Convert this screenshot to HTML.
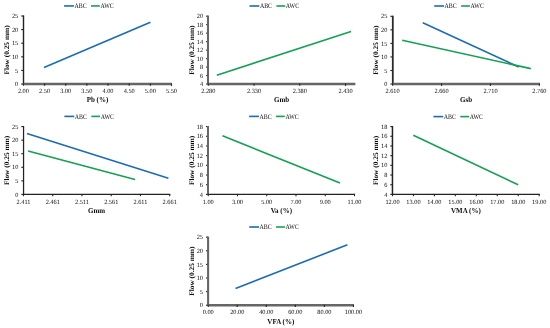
<!DOCTYPE html>
<html><head><meta charset="utf-8"><style>
html,body{margin:0;padding:0;background:#fff;}
svg{display:block;filter:blur(0.2px);}
text{text-rendering:geometricPrecision;}
.tk{font-family:"Liberation Serif",serif;font-size:6.3px;fill:#0a0a0a;}
.ttl{font-family:"Liberation Serif",serif;font-size:7.0px;font-weight:bold;fill:#0a0a0a;}
.lg{font-family:"Liberation Serif",serif;font-size:6.8px;fill:#0a0a0a;}
</style></head><body>
<svg width="550" height="328" viewBox="0 0 550 328">
<rect width="550" height="328" fill="#fff"/>
<line x1="21.20" y1="84.05" x2="23.4" y2="84.05" stroke="#222222" stroke-width="1.1"/>
<text x="18.20" y="86.15" text-anchor="end" class="tk">0</text>
<line x1="21.20" y1="70.44" x2="23.4" y2="70.44" stroke="#222222" stroke-width="1.1"/>
<text x="18.20" y="72.54" text-anchor="end" class="tk">5</text>
<line x1="21.20" y1="56.83" x2="23.4" y2="56.83" stroke="#222222" stroke-width="1.1"/>
<text x="18.20" y="58.93" text-anchor="end" class="tk">10</text>
<line x1="21.20" y1="43.22" x2="23.4" y2="43.22" stroke="#222222" stroke-width="1.1"/>
<text x="18.20" y="45.32" text-anchor="end" class="tk">15</text>
<line x1="21.20" y1="29.61" x2="23.4" y2="29.61" stroke="#222222" stroke-width="1.1"/>
<text x="18.20" y="31.71" text-anchor="end" class="tk">20</text>
<line x1="21.20" y1="16.00" x2="23.4" y2="16.00" stroke="#222222" stroke-width="1.1"/>
<text x="18.20" y="18.10" text-anchor="end" class="tk">25</text>
<line x1="23.5" y1="15.40" x2="23.5" y2="84.05" stroke="#222222" stroke-width="1.4"/>
<line x1="23.4" y1="84.05" x2="172.00" y2="84.05" stroke="#666666" stroke-width="2.4"/>
<line x1="23.40" y1="83.55" x2="23.40" y2="85.85" stroke="#222222" stroke-width="1.1"/>
<text x="23.40" y="93.25" text-anchor="middle" class="tk">2.00</text>
<line x1="44.56" y1="83.55" x2="44.56" y2="85.85" stroke="#222222" stroke-width="1.1"/>
<text x="44.56" y="93.25" text-anchor="middle" class="tk">2.50</text>
<line x1="65.71" y1="83.55" x2="65.71" y2="85.85" stroke="#222222" stroke-width="1.1"/>
<text x="65.71" y="93.25" text-anchor="middle" class="tk">3.00</text>
<line x1="86.87" y1="83.55" x2="86.87" y2="85.85" stroke="#222222" stroke-width="1.1"/>
<text x="86.87" y="93.25" text-anchor="middle" class="tk">3.50</text>
<line x1="108.03" y1="83.55" x2="108.03" y2="85.85" stroke="#222222" stroke-width="1.1"/>
<text x="108.03" y="93.25" text-anchor="middle" class="tk">4.00</text>
<line x1="129.19" y1="83.55" x2="129.19" y2="85.85" stroke="#222222" stroke-width="1.1"/>
<text x="129.19" y="93.25" text-anchor="middle" class="tk">4.50</text>
<line x1="150.34" y1="83.55" x2="150.34" y2="85.85" stroke="#222222" stroke-width="1.1"/>
<text x="150.34" y="93.25" text-anchor="middle" class="tk">5.00</text>
<line x1="171.50" y1="83.55" x2="171.50" y2="85.85" stroke="#222222" stroke-width="1.1"/>
<text x="171.50" y="93.25" text-anchor="middle" class="tk">5.50</text>
<text transform="translate(97.45,102.40) scale(1,1.08)" text-anchor="middle" class="ttl">Pb (%)</text>
<text transform="translate(9.40,50.02) rotate(-90) scale(1.05,1)" text-anchor="middle" class="ttl">Flow (0.25 mm)</text>
<line x1="64.1" y1="5.95" x2="73.90" y2="5.95" stroke="#1a6cb5" stroke-width="1.6"/>
<text transform="translate(74.50,8.40) scale(0.87,1)" class="lg">ABC</text>
<line x1="91.00" y1="5.95" x2="99.80" y2="5.95" stroke="#16a053" stroke-width="1.6"/>
<text transform="translate(100.40,8.40) scale(0.87,1)" class="lg">AWC</text>
<line x1="44.0" y1="67.6" x2="150.4" y2="22.2" stroke="#1a6cb5" stroke-width="1.6"/>
<line x1="206.10" y1="84.05" x2="208.3" y2="84.05" stroke="#222222" stroke-width="1.1"/>
<text x="203.10" y="86.15" text-anchor="end" class="tk">4</text>
<line x1="206.10" y1="75.57" x2="208.3" y2="75.57" stroke="#222222" stroke-width="1.1"/>
<text x="203.10" y="77.67" text-anchor="end" class="tk">6</text>
<line x1="206.10" y1="67.09" x2="208.3" y2="67.09" stroke="#222222" stroke-width="1.1"/>
<text x="203.10" y="69.19" text-anchor="end" class="tk">8</text>
<line x1="206.10" y1="58.61" x2="208.3" y2="58.61" stroke="#222222" stroke-width="1.1"/>
<text x="203.10" y="60.71" text-anchor="end" class="tk">10</text>
<line x1="206.10" y1="50.12" x2="208.3" y2="50.12" stroke="#222222" stroke-width="1.1"/>
<text x="203.10" y="52.23" text-anchor="end" class="tk">12</text>
<line x1="206.10" y1="41.64" x2="208.3" y2="41.64" stroke="#222222" stroke-width="1.1"/>
<text x="203.10" y="43.74" text-anchor="end" class="tk">14</text>
<line x1="206.10" y1="33.16" x2="208.3" y2="33.16" stroke="#222222" stroke-width="1.1"/>
<text x="203.10" y="35.26" text-anchor="end" class="tk">16</text>
<line x1="206.10" y1="24.68" x2="208.3" y2="24.68" stroke="#222222" stroke-width="1.1"/>
<text x="203.10" y="26.78" text-anchor="end" class="tk">18</text>
<line x1="206.10" y1="16.20" x2="208.3" y2="16.20" stroke="#222222" stroke-width="1.1"/>
<text x="203.10" y="18.30" text-anchor="end" class="tk">20</text>
<line x1="208.0" y1="15.60" x2="208.0" y2="84.05" stroke="#666666" stroke-width="2.1"/>
<line x1="208.3" y1="84.05" x2="355.40" y2="84.05" stroke="#666666" stroke-width="2.4"/>
<line x1="208.30" y1="83.55" x2="208.30" y2="85.85" stroke="#222222" stroke-width="1.1"/>
<text x="208.30" y="93.25" text-anchor="middle" class="tk">2.280</text>
<line x1="254.03" y1="83.55" x2="254.03" y2="85.85" stroke="#222222" stroke-width="1.1"/>
<text x="254.03" y="93.25" text-anchor="middle" class="tk">2.330</text>
<line x1="299.77" y1="83.55" x2="299.77" y2="85.85" stroke="#222222" stroke-width="1.1"/>
<text x="299.77" y="93.25" text-anchor="middle" class="tk">2.380</text>
<line x1="345.50" y1="83.55" x2="345.50" y2="85.85" stroke="#222222" stroke-width="1.1"/>
<text x="345.50" y="93.25" text-anchor="middle" class="tk">2.430</text>
<text transform="translate(281.60,102.40) scale(1,1.08)" text-anchor="middle" class="ttl">Gmb</text>
<text transform="translate(193.80,50.12) rotate(-90) scale(1.05,1)" text-anchor="middle" class="ttl">Flow (0.25 mm)</text>
<line x1="249.5" y1="6.0" x2="259.30" y2="6.0" stroke="#1a6cb5" stroke-width="1.6"/>
<text transform="translate(259.90,8.45) scale(0.87,1)" class="lg">ABC</text>
<line x1="276.40" y1="6.0" x2="285.20" y2="6.0" stroke="#16a053" stroke-width="1.6"/>
<text transform="translate(285.80,8.45) scale(0.87,1)" class="lg">AWC</text>
<line x1="216.8" y1="75.3" x2="351.0" y2="31.4" stroke="#16a053" stroke-width="1.6"/>
<line x1="390.40" y1="84.05" x2="392.6" y2="84.05" stroke="#222222" stroke-width="1.1"/>
<text x="387.40" y="86.15" text-anchor="end" class="tk">0</text>
<line x1="390.40" y1="70.50" x2="392.6" y2="70.50" stroke="#222222" stroke-width="1.1"/>
<text x="387.40" y="72.60" text-anchor="end" class="tk">5</text>
<line x1="390.40" y1="56.95" x2="392.6" y2="56.95" stroke="#222222" stroke-width="1.1"/>
<text x="387.40" y="59.05" text-anchor="end" class="tk">10</text>
<line x1="390.40" y1="43.40" x2="392.6" y2="43.40" stroke="#222222" stroke-width="1.1"/>
<text x="387.40" y="45.50" text-anchor="end" class="tk">15</text>
<line x1="390.40" y1="29.85" x2="392.6" y2="29.85" stroke="#222222" stroke-width="1.1"/>
<text x="387.40" y="31.95" text-anchor="end" class="tk">20</text>
<line x1="390.40" y1="16.30" x2="392.6" y2="16.30" stroke="#222222" stroke-width="1.1"/>
<text x="387.40" y="18.40" text-anchor="end" class="tk">25</text>
<line x1="392.8" y1="15.70" x2="392.8" y2="84.05" stroke="#2a2a2a" stroke-width="1.8"/>
<line x1="392.6" y1="84.05" x2="539.90" y2="84.05" stroke="#666666" stroke-width="2.4"/>
<line x1="392.60" y1="83.55" x2="392.60" y2="85.85" stroke="#222222" stroke-width="1.1"/>
<text x="392.60" y="93.25" text-anchor="middle" class="tk">2.610</text>
<line x1="441.53" y1="83.55" x2="441.53" y2="85.85" stroke="#222222" stroke-width="1.1"/>
<text x="441.53" y="93.25" text-anchor="middle" class="tk">2.660</text>
<line x1="490.47" y1="83.55" x2="490.47" y2="85.85" stroke="#222222" stroke-width="1.1"/>
<text x="490.47" y="93.25" text-anchor="middle" class="tk">2.710</text>
<line x1="539.40" y1="83.55" x2="539.40" y2="85.85" stroke="#222222" stroke-width="1.1"/>
<text x="539.40" y="93.25" text-anchor="middle" class="tk">2.760</text>
<text transform="translate(466.00,102.40) scale(1,1.08)" text-anchor="middle" class="ttl">Gsb</text>
<text transform="translate(378.30,50.17) rotate(-90) scale(1.05,1)" text-anchor="middle" class="ttl">Flow (0.25 mm)</text>
<line x1="434.2" y1="6.0" x2="444.00" y2="6.0" stroke="#1a6cb5" stroke-width="1.6"/>
<text transform="translate(444.60,8.45) scale(0.87,1)" class="lg">ABC</text>
<line x1="461.10" y1="6.0" x2="469.90" y2="6.0" stroke="#16a053" stroke-width="1.6"/>
<text transform="translate(470.50,8.45) scale(0.87,1)" class="lg">AWC</text>
<line x1="422.8" y1="22.7" x2="518.8" y2="67.0" stroke="#1a6cb5" stroke-width="1.6"/>
<line x1="402.2" y1="40.3" x2="530.8" y2="68.6" stroke="#16a053" stroke-width="1.6"/>
<line x1="21.30" y1="194.40" x2="23.5" y2="194.40" stroke="#222222" stroke-width="1.1"/>
<text x="18.30" y="196.50" text-anchor="end" class="tk">0</text>
<line x1="21.30" y1="180.84" x2="23.5" y2="180.84" stroke="#222222" stroke-width="1.1"/>
<text x="18.30" y="182.94" text-anchor="end" class="tk">5</text>
<line x1="21.30" y1="167.28" x2="23.5" y2="167.28" stroke="#222222" stroke-width="1.1"/>
<text x="18.30" y="169.38" text-anchor="end" class="tk">10</text>
<line x1="21.30" y1="153.72" x2="23.5" y2="153.72" stroke="#222222" stroke-width="1.1"/>
<text x="18.30" y="155.82" text-anchor="end" class="tk">15</text>
<line x1="21.30" y1="140.16" x2="23.5" y2="140.16" stroke="#222222" stroke-width="1.1"/>
<text x="18.30" y="142.26" text-anchor="end" class="tk">20</text>
<line x1="21.30" y1="126.60" x2="23.5" y2="126.60" stroke="#222222" stroke-width="1.1"/>
<text x="18.30" y="128.70" text-anchor="end" class="tk">25</text>
<line x1="23.55" y1="126.00" x2="23.55" y2="194.4" stroke="#222222" stroke-width="1.25"/>
<line x1="23.5" y1="194.4" x2="170.20" y2="194.4" stroke="#222222" stroke-width="1.25"/>
<line x1="23.50" y1="193.90" x2="23.50" y2="196.20" stroke="#222222" stroke-width="1.1"/>
<text x="23.50" y="203.60" text-anchor="middle" class="tk">2.411</text>
<line x1="52.74" y1="193.90" x2="52.74" y2="196.20" stroke="#222222" stroke-width="1.1"/>
<text x="52.74" y="203.60" text-anchor="middle" class="tk">2.461</text>
<line x1="81.98" y1="193.90" x2="81.98" y2="196.20" stroke="#222222" stroke-width="1.1"/>
<text x="81.98" y="203.60" text-anchor="middle" class="tk">2.511</text>
<line x1="111.22" y1="193.90" x2="111.22" y2="196.20" stroke="#222222" stroke-width="1.1"/>
<text x="111.22" y="203.60" text-anchor="middle" class="tk">2.561</text>
<line x1="140.46" y1="193.90" x2="140.46" y2="196.20" stroke="#222222" stroke-width="1.1"/>
<text x="140.46" y="203.60" text-anchor="middle" class="tk">2.611</text>
<line x1="169.70" y1="193.90" x2="169.70" y2="196.20" stroke="#222222" stroke-width="1.1"/>
<text x="169.70" y="203.60" text-anchor="middle" class="tk">2.661</text>
<text transform="translate(96.60,213.00) scale(1,1.08)" text-anchor="middle" class="ttl">Gmm</text>
<text transform="translate(9.30,160.50) rotate(-90) scale(1.05,1)" text-anchor="middle" class="ttl">Flow (0.25 mm)</text>
<line x1="64.4" y1="116.4" x2="74.20" y2="116.4" stroke="#1a6cb5" stroke-width="1.6"/>
<text transform="translate(74.80,118.85) scale(0.87,1)" class="lg">ABC</text>
<line x1="91.30" y1="116.4" x2="100.10" y2="116.4" stroke="#16a053" stroke-width="1.6"/>
<text transform="translate(100.70,118.85) scale(0.87,1)" class="lg">AWC</text>
<line x1="26.9" y1="133.5" x2="168.4" y2="178.2" stroke="#1a6cb5" stroke-width="1.6"/>
<line x1="28.1" y1="151.0" x2="135.0" y2="179.5" stroke="#16a053" stroke-width="1.6"/>
<line x1="206.00" y1="194.40" x2="208.2" y2="194.40" stroke="#222222" stroke-width="1.1"/>
<text x="203.00" y="196.50" text-anchor="end" class="tk">4</text>
<line x1="206.00" y1="184.71" x2="208.2" y2="184.71" stroke="#222222" stroke-width="1.1"/>
<text x="203.00" y="186.81" text-anchor="end" class="tk">6</text>
<line x1="206.00" y1="175.03" x2="208.2" y2="175.03" stroke="#222222" stroke-width="1.1"/>
<text x="203.00" y="177.13" text-anchor="end" class="tk">8</text>
<line x1="206.00" y1="165.34" x2="208.2" y2="165.34" stroke="#222222" stroke-width="1.1"/>
<text x="203.00" y="167.44" text-anchor="end" class="tk">10</text>
<line x1="206.00" y1="155.66" x2="208.2" y2="155.66" stroke="#222222" stroke-width="1.1"/>
<text x="203.00" y="157.76" text-anchor="end" class="tk">12</text>
<line x1="206.00" y1="145.97" x2="208.2" y2="145.97" stroke="#222222" stroke-width="1.1"/>
<text x="203.00" y="148.07" text-anchor="end" class="tk">14</text>
<line x1="206.00" y1="136.29" x2="208.2" y2="136.29" stroke="#222222" stroke-width="1.1"/>
<text x="203.00" y="138.39" text-anchor="end" class="tk">16</text>
<line x1="206.00" y1="126.60" x2="208.2" y2="126.60" stroke="#222222" stroke-width="1.1"/>
<text x="203.00" y="128.70" text-anchor="end" class="tk">18</text>
<line x1="208.0" y1="126.00" x2="208.0" y2="194.4" stroke="#666666" stroke-width="2.0"/>
<line x1="208.2" y1="194.4" x2="355.00" y2="194.4" stroke="#222222" stroke-width="1.25"/>
<line x1="208.20" y1="193.90" x2="208.20" y2="196.20" stroke="#222222" stroke-width="1.1"/>
<text x="208.20" y="203.60" text-anchor="middle" class="tk">1.00</text>
<line x1="237.46" y1="193.90" x2="237.46" y2="196.20" stroke="#222222" stroke-width="1.1"/>
<text x="237.46" y="203.60" text-anchor="middle" class="tk">3.00</text>
<line x1="266.72" y1="193.90" x2="266.72" y2="196.20" stroke="#222222" stroke-width="1.1"/>
<text x="266.72" y="203.60" text-anchor="middle" class="tk">5.00</text>
<line x1="295.98" y1="193.90" x2="295.98" y2="196.20" stroke="#222222" stroke-width="1.1"/>
<text x="295.98" y="203.60" text-anchor="middle" class="tk">7.00</text>
<line x1="325.24" y1="193.90" x2="325.24" y2="196.20" stroke="#222222" stroke-width="1.1"/>
<text x="325.24" y="203.60" text-anchor="middle" class="tk">9.00</text>
<line x1="354.50" y1="193.90" x2="354.50" y2="196.20" stroke="#222222" stroke-width="1.1"/>
<text x="354.50" y="203.60" text-anchor="middle" class="tk">11.00</text>
<text transform="translate(281.35,213.00) scale(1,1.08)" text-anchor="middle" class="ttl">Va (%)</text>
<text transform="translate(193.80,160.50) rotate(-90) scale(1.05,1)" text-anchor="middle" class="ttl">Flow (0.25 mm)</text>
<line x1="249.1" y1="116.4" x2="258.90" y2="116.4" stroke="#1a6cb5" stroke-width="1.6"/>
<text transform="translate(259.50,118.85) scale(0.87,1)" class="lg">ABC</text>
<line x1="276.00" y1="116.4" x2="284.80" y2="116.4" stroke="#16a053" stroke-width="1.6"/>
<text transform="translate(285.40,118.85) scale(0.87,1)" class="lg">AWC</text>
<line x1="222.5" y1="135.8" x2="340.0" y2="183.0" stroke="#16a053" stroke-width="1.6"/>
<line x1="390.30" y1="194.40" x2="392.5" y2="194.40" stroke="#222222" stroke-width="1.1"/>
<text x="387.30" y="196.50" text-anchor="end" class="tk">4</text>
<line x1="390.30" y1="184.71" x2="392.5" y2="184.71" stroke="#222222" stroke-width="1.1"/>
<text x="387.30" y="186.81" text-anchor="end" class="tk">6</text>
<line x1="390.30" y1="175.03" x2="392.5" y2="175.03" stroke="#222222" stroke-width="1.1"/>
<text x="387.30" y="177.13" text-anchor="end" class="tk">8</text>
<line x1="390.30" y1="165.34" x2="392.5" y2="165.34" stroke="#222222" stroke-width="1.1"/>
<text x="387.30" y="167.44" text-anchor="end" class="tk">10</text>
<line x1="390.30" y1="155.66" x2="392.5" y2="155.66" stroke="#222222" stroke-width="1.1"/>
<text x="387.30" y="157.76" text-anchor="end" class="tk">12</text>
<line x1="390.30" y1="145.97" x2="392.5" y2="145.97" stroke="#222222" stroke-width="1.1"/>
<text x="387.30" y="148.07" text-anchor="end" class="tk">14</text>
<line x1="390.30" y1="136.29" x2="392.5" y2="136.29" stroke="#222222" stroke-width="1.1"/>
<text x="387.30" y="138.39" text-anchor="end" class="tk">16</text>
<line x1="390.30" y1="126.60" x2="392.5" y2="126.60" stroke="#222222" stroke-width="1.1"/>
<text x="387.30" y="128.70" text-anchor="end" class="tk">18</text>
<line x1="392.45" y1="126.00" x2="392.45" y2="194.4" stroke="#222222" stroke-width="1.5"/>
<line x1="392.5" y1="194.4" x2="539.70" y2="194.4" stroke="#222222" stroke-width="1.25"/>
<line x1="392.50" y1="193.90" x2="392.50" y2="196.20" stroke="#222222" stroke-width="1.1"/>
<text x="392.50" y="203.60" text-anchor="middle" class="tk">12.00</text>
<line x1="413.46" y1="193.90" x2="413.46" y2="196.20" stroke="#222222" stroke-width="1.1"/>
<text x="413.46" y="203.60" text-anchor="middle" class="tk">13.00</text>
<line x1="434.41" y1="193.90" x2="434.41" y2="196.20" stroke="#222222" stroke-width="1.1"/>
<text x="434.41" y="203.60" text-anchor="middle" class="tk">14.00</text>
<line x1="455.37" y1="193.90" x2="455.37" y2="196.20" stroke="#222222" stroke-width="1.1"/>
<text x="455.37" y="203.60" text-anchor="middle" class="tk">15.00</text>
<line x1="476.33" y1="193.90" x2="476.33" y2="196.20" stroke="#222222" stroke-width="1.1"/>
<text x="476.33" y="203.60" text-anchor="middle" class="tk">16.00</text>
<line x1="497.29" y1="193.90" x2="497.29" y2="196.20" stroke="#222222" stroke-width="1.1"/>
<text x="497.29" y="203.60" text-anchor="middle" class="tk">17.00</text>
<line x1="518.24" y1="193.90" x2="518.24" y2="196.20" stroke="#222222" stroke-width="1.1"/>
<text x="518.24" y="203.60" text-anchor="middle" class="tk">18.00</text>
<line x1="539.20" y1="193.90" x2="539.20" y2="196.20" stroke="#222222" stroke-width="1.1"/>
<text x="539.20" y="203.60" text-anchor="middle" class="tk">19.00</text>
<text transform="translate(465.85,213.00) scale(1,1.08)" text-anchor="middle" class="ttl">VMA (%)</text>
<text transform="translate(378.30,160.50) rotate(-90) scale(1.05,1)" text-anchor="middle" class="ttl">Flow (0.25 mm)</text>
<line x1="433.4" y1="116.6" x2="443.20" y2="116.6" stroke="#1a6cb5" stroke-width="1.6"/>
<text transform="translate(443.80,119.05) scale(0.87,1)" class="lg">ABC</text>
<line x1="460.30" y1="116.6" x2="469.10" y2="116.6" stroke="#16a053" stroke-width="1.6"/>
<text transform="translate(469.70,119.05) scale(0.87,1)" class="lg">AWC</text>
<line x1="413.3" y1="135.3" x2="518.2" y2="184.8" stroke="#16a053" stroke-width="1.6"/>
<line x1="206.00" y1="305.20" x2="208.2" y2="305.20" stroke="#222222" stroke-width="1.1"/>
<text x="203.00" y="307.30" text-anchor="end" class="tk">0</text>
<line x1="206.00" y1="291.60" x2="208.2" y2="291.60" stroke="#222222" stroke-width="1.1"/>
<text x="203.00" y="293.70" text-anchor="end" class="tk">5</text>
<line x1="206.00" y1="278.00" x2="208.2" y2="278.00" stroke="#222222" stroke-width="1.1"/>
<text x="203.00" y="280.10" text-anchor="end" class="tk">10</text>
<line x1="206.00" y1="264.40" x2="208.2" y2="264.40" stroke="#222222" stroke-width="1.1"/>
<text x="203.00" y="266.50" text-anchor="end" class="tk">15</text>
<line x1="206.00" y1="250.80" x2="208.2" y2="250.80" stroke="#222222" stroke-width="1.1"/>
<text x="203.00" y="252.90" text-anchor="end" class="tk">20</text>
<line x1="206.00" y1="237.20" x2="208.2" y2="237.20" stroke="#222222" stroke-width="1.1"/>
<text x="203.00" y="239.30" text-anchor="end" class="tk">25</text>
<line x1="208.1" y1="236.60" x2="208.1" y2="305.2" stroke="#666666" stroke-width="2.1"/>
<line x1="208.2" y1="305.2" x2="353.90" y2="305.2" stroke="#666666" stroke-width="2.4"/>
<line x1="208.20" y1="304.70" x2="208.20" y2="307.00" stroke="#222222" stroke-width="1.1"/>
<text x="208.20" y="314.40" text-anchor="middle" class="tk">0.00</text>
<line x1="237.24" y1="304.70" x2="237.24" y2="307.00" stroke="#222222" stroke-width="1.1"/>
<text x="237.24" y="314.40" text-anchor="middle" class="tk">20.00</text>
<line x1="266.28" y1="304.70" x2="266.28" y2="307.00" stroke="#222222" stroke-width="1.1"/>
<text x="266.28" y="314.40" text-anchor="middle" class="tk">40.00</text>
<line x1="295.32" y1="304.70" x2="295.32" y2="307.00" stroke="#222222" stroke-width="1.1"/>
<text x="295.32" y="314.40" text-anchor="middle" class="tk">60.00</text>
<line x1="324.36" y1="304.70" x2="324.36" y2="307.00" stroke="#222222" stroke-width="1.1"/>
<text x="324.36" y="314.40" text-anchor="middle" class="tk">80.00</text>
<line x1="353.40" y1="304.70" x2="353.40" y2="307.00" stroke="#222222" stroke-width="1.1"/>
<text x="353.40" y="314.40" text-anchor="middle" class="tk">100.00</text>
<text transform="translate(280.80,323.70) scale(1,1.08)" text-anchor="middle" class="ttl">VFA (%)</text>
<text transform="translate(193.80,271.20) rotate(-90) scale(1.05,1)" text-anchor="middle" class="ttl">Flow (0.25 mm)</text>
<line x1="249.2" y1="227.0" x2="259.00" y2="227.0" stroke="#1a6cb5" stroke-width="1.6"/>
<text transform="translate(259.60,229.45) scale(0.87,1)" class="lg">ABC</text>
<line x1="276.10" y1="227.0" x2="284.90" y2="227.0" stroke="#16a053" stroke-width="1.6"/>
<text transform="translate(285.50,229.45) scale(0.87,1)" class="lg">AWC</text>
<line x1="235.5" y1="288.4" x2="347.4" y2="244.8" stroke="#1a6cb5" stroke-width="1.6"/>
</svg>
</body></html>
